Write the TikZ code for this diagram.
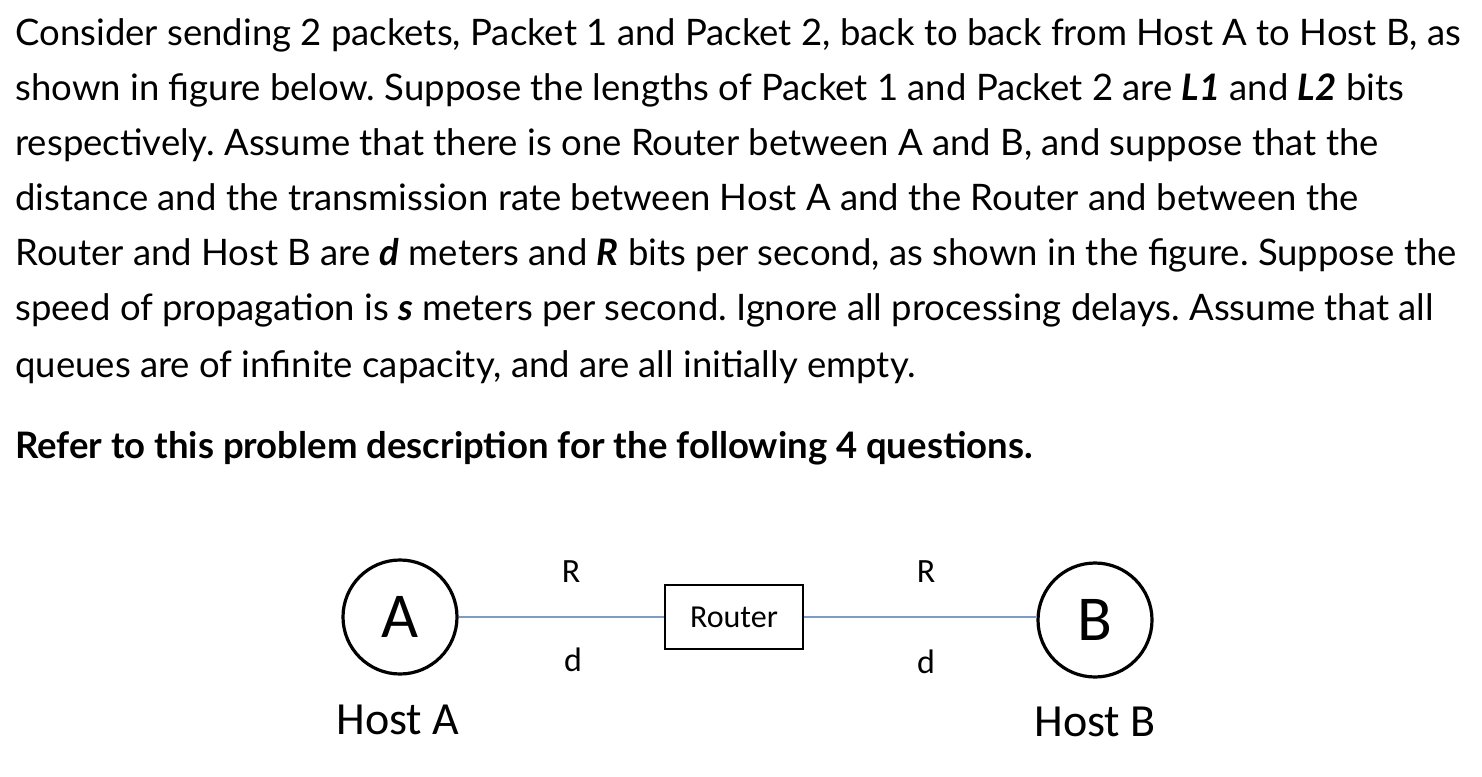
\documentclass[tikz,border=0pt]{standalone}
\usepackage{fontspec}
\setmainfont{Lato}
\newfontfamily\diag{Carlito}
\definecolor{linkc}{RGB}{125,155,195}
\frenchspacing
\begin{document}
\begin{tikzpicture}[x=0.5pt,y=-0.5pt,
  para/.style={anchor=base west,inner sep=0pt,font=\fontsize{18.25}{20}\selectfont},
  host/.style={circle,draw,line width=1.6pt,minimum size=57pt,inner sep=0pt,font=\diag\fontsize{32}{34}\selectfont},
  lbl/.style={inner sep=0pt,font=\diag\fontsize{17}{19}\selectfont},
  hl/.style={inner sep=0pt,font=\diag\fontsize{23}{25}\selectfont},
  link/.style={draw=linkc,line width=0.8pt}]
\useasboundingbox (0,0) rectangle (1482,776);
\node[para] (l1) at (15,45) {Consider sending 2 packets, Packet 1 and Packet 2, back to back from Host A to Host B, as};
\node[para] (l2) at (15,100) {shown in figure below. Suppose the lengths of Packet 1 and Packet 2 are \textbf{\textit{L1}} and \textbf{\textit{L2}} bits};
\node[para] (l3) at (15,155) {respectively. Assume that there is one Router between A and B, and suppose that the};
\node[para] (l4) at (15,210) {distance and the transmission rate between Host A and the Router and between the};
\node[para] (l5) at (15,265) {Router and Host B are \textbf{\textit{d}} meters and \textbf{\textit{R}} bits per second, as shown in the figure. Suppose the};
\node[para] (l6) at (15,320) {speed of propagation is \textbf{\textit{s}} meters per second. Ignore all processing delays. Assume that all};
\node[para] (l7) at (15,377) {queues are of infinite capacity, and are all initially empty.};
\node[para,font=\fontsize{18.25}{20}\selectfont\bfseries] (l8) at (15,458) {Refer to this problem description for the following 4 questions.};
\node[host] (A) at (400,617) {A};
\node[host] (B) at (1095,620) {B};
\node[draw,line width=1.4pt,minimum width=69pt,minimum height=32pt,font=\diag\fontsize{16}{18}\selectfont] (R) at (734,617) {Router};
\draw[link] (A) -- (R.west |- A.east);
\draw[link] (R.east) -- (B.west |- R.east);
\node[lbl] (r1) at (571,572) {R};
\node[lbl] (d1) at (573,660) {d};
\node[lbl] (r2) at (926,572) {R};
\node[lbl] (d2) at (926,662) {d};
\node[hl] (ha) at (398,720) {Host A};
\node[hl] (hb) at (1095,722) {Host B};
\end{tikzpicture}
\end{document}
